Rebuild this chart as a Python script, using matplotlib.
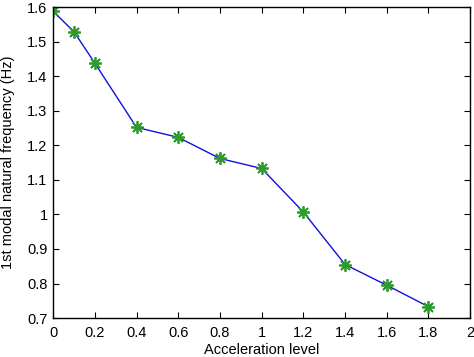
import matplotlib
matplotlib.use("Agg")
import matplotlib.pyplot as plt

# data
accel = [0, 0.1, 0.2, 0.4, 0.6, 0.8, 1.0, 1.2, 1.4, 1.6, 1.8]
freq = [1.588, 1.529, 1.438, 1.252, 1.223, 1.162, 1.133, 1.007, 0.855, 0.795, 0.733]
xticks = [0, 0.2, 0.4, 0.6, 0.8, 1, 1.2, 1.4, 1.6, 1.8, 2]
xlabels = ['0', '0.2', '0.4', '0.6', '0.8', '1', '1.2', '1.4', '1.6', '1.8', '2']
yticks = [0.7, 0.8, 0.9, 1.0, 1.1, 1.2, 1.3, 1.4, 1.5, 1.6]
ylabels = ['0.7', '0.8', '0.9', '1', '1.1', '1.2', '1.3', '1.4', '1.5', '1.6']

plt.rcParams['font.family'] = ['Liberation Sans', 'DejaVu Sans']

fig = plt.figure(figsize=(4.74, 3.57), dpi=100)
ax = fig.add_axes([0.112, 0.109, 0.880, 0.871])

# line plus asterisk markers
ax.plot(accel, freq, color='#1010e0', linewidth=1.0)
ax.plot(accel, freq, linestyle='none', marker=(8, 2, 0), markersize=9,
        markeredgecolor='#2e9a2e', markeredgewidth=1.3)

ax.set_xlim(0, 2)
ax.set_ylim(0.7, 1.6)
ax.set_xticks(xticks)
ax.set_xticklabels(xlabels)
ax.set_yticks(yticks)
ax.set_yticklabels(ylabels)
ax.tick_params(direction='in', top=True, right=True, labelsize=10.5, length=4, width=0.8)
ax.tick_params(axis='x', pad=6)
ax.tick_params(axis='y', pad=4)
for s in ax.spines.values():
    s.set_linewidth(1.0)

ax.set_xlabel('Acceleration level', fontsize=10.5, labelpad=2)
ax.set_ylabel('1st modal natural frequency (Hz)', fontsize=10.5, labelpad=9)

fig.savefig('out.png', dpi=100)
